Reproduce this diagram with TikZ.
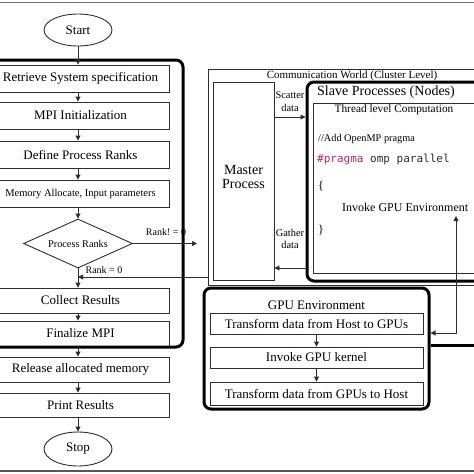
\documentclass[tikz,border=0pt]{standalone}
\usepackage{fontspec}
\setmainfont{Liberation Serif}
\newfontfamily\codefont{DejaVu Sans Mono}
\usetikzlibrary{shapes.geometric,arrows.meta,calc}
\definecolor{ln}{RGB}{45,45,45}
\definecolor{pragmac}{RGB}{170,40,110}
\definecolor{framec}{RGB}{110,110,110}
\begin{document}
\begin{tikzpicture}[x=1pt,y=-1pt,
  fs/.style={font=\fontsize{#1}{#1}\selectfont},
  lbox/.style={draw=ln, line width=0.9pt, rectangle, minimum width=178pt, minimum height=27pt, inner sep=0pt, fs=13},
  gbox/.style={draw=ln, line width=0.9pt, rectangle, minimum width=213pt, minimum height=21pt, inner sep=0pt, fs=13},
  term/.style={ellipse, draw=ln, line width=0.9pt, minimum width=68pt, minimum height=32pt, inner sep=0pt, fs=13},
  bigframe/.style={draw=black, line width=3pt, rectangle, rounded corners=7pt, inner sep=0pt},
  thinframe/.style={draw=ln, line width=0.9pt, rectangle, inner sep=0pt},
  arr/.style={draw=ln, line width=0.9pt, -{Triangle[length=5pt,width=5pt]}},
  lab/.style={inner sep=0pt}]
\useasboundingbox (0,0) rectangle (474,474);
\clip (0,0) rectangle (474,474);
% page rules
\coordinate (tl) at (0,2.5); \coordinate (tr) at (474,2.5);
\coordinate (bl) at (0,470.5); \coordinate (br) at (474,470.5);
\draw[framec, line width=1.5pt] (tl) -- (tr);
\draw[framec!80!black, line width=2pt] (bl) -- (br);

% ---------- right side containers ----------
\node[thinframe, minimum width=312pt, minimum height=216pt] (comm) at (364,177) {};
\node[lab, fs=11] at (352,76) {Communication World (Cluster Level)};
\node[thinframe, minimum width=61pt, minimum height=198pt] (master) at (243.5,181) {};
\node[lab, fs=14, align=center] at (243.5,177) {Master\\[0pt]Process};
\node[bigframe, minimum width=213pt, minimum height=199pt] (slave) at (413.5,181.5) {};
\node[lab, fs=14, anchor=west] at (317,92) {Slave Processes (Nodes)};
\node[thinframe, minimum width=197pt, minimum height=170pt] (thread) at (411.5,188) {};
\node[lab, fs=11.3] at (394,109.5) {Thread level Computation};
\node[lab, fs=10.3, anchor=west] at (318,139) {//Add OpenMP pragma};
\node[lab, anchor=west, font=\codefont\fontsize{11}{11}\selectfont, text=ln] at (317,159) {\textcolor{pragmac}{\#pragma} omp parallel};
\node[lab, fs=12, anchor=west] at (318,186) {\{};
\node[lab, fs=12, anchor=west] (invoke) at (342,207) {Invoke GPU Environment};
\node[lab, fs=12, anchor=west] at (318,230) {\}};
\node[lab, fs=10.4, align=center] at (290,101.5) {Scatter\\[2pt]data};
\node[lab, fs=10.4, align=center] at (290,239) {Gather\\[2pt]data};
\coordinate (sy) at (0,117);
\draw[arr] (master.east |- sy) -- (slave.west |- sy);
\coordinate (gy) at (0,268);
\draw[arr] (slave.west |- gy) -- (master.east |- gy);

% ---------- GPU environment ----------
\node[bigframe, minimum width=225pt, minimum height=121pt] (gpu) at (316.5,348.5) {};
\node[lab, fs=13] at (316.5,305) {GPU Environment};
\node[gbox] (t1) at (316.5,323.5) {Transform data from Host to GPUs};
\node[gbox] (kern) at (316.5,357.5) {Invoke GPU kernel};
\node[gbox, minimum height=23pt] (t2) at (316.5,393.5) {Transform data from GPUs to Host};
\draw[arr] (t1) -- (kern);
\draw[arr] (kern) -- (t2);
\coordinate (invtip) at (456,216);
\coordinate (gcorner) at (456,333);
\draw[draw=ln, line width=0.9pt, {Triangle[length=5pt,width=5pt]}-{Triangle[length=5pt,width=5pt]}] (invtip) -- (gcorner) -- (gpu.east |- gcorner);
\coordinate (off) at (500,345);
\draw[black, line width=3pt] (gpu.east |- off) -- (off);

% ---------- left flowchart ----------
\node[term] (start) at (78,30) {Start};
\node[lbox] (retr) at (80.5,78.5) {Retrieve System specification};
\node[lbox] (mpiinit) at (80.5,115.5) {MPI Initialization};
\node[lbox] (ranks) at (80.5,154.5) {Define Process Ranks};
\node[lbox, fs=10.5] (mem) at (80.5,193.5) {Memory Allocate, Input parameters};
\node[diamond, aspect=2.2, draw=ln, line width=0.9pt, minimum width=109pt, minimum height=49pt, inner sep=0pt, fs=10.3] (dec) at (78,243.5) {Process Ranks};
\node[lbox, minimum height=25pt] (coll) at (80.5,300.5) {Collect Results};
\node[lbox, minimum height=25pt] (fin) at (80.5,333.5) {Finalize MPI};
\node[lbox, minimum height=25pt] (rel) at (80.5,369.5) {Release allocated memory};
\node[lbox, minimum height=24pt] (print) at (80.5,405) {Print Results};
\node[term, minimum height=34pt] (stop) at (78,449) {Stop};
\node[bigframe, minimum width=197pt, minimum height=287pt] (mpiframe) at (84.5,203.5) {};

\draw[arr] (start.south) -- (start.south |- retr.north);
\draw[arr] (start.south |- retr.south) -- (start.south |- mpiinit.north);
\draw[arr] (start.south |- mpiinit.south) -- (start.south |- ranks.north);
\draw[arr] (start.south |- ranks.south) -- (start.south |- mem.north);
\draw[arr] (start.south |- mem.south) -- (dec.north);
\draw[arr] (dec.south) -- (dec.south |- coll.north);
\draw[arr] (dec.south |- coll.south) -- (dec.south |- fin.north);
\draw[arr] (dec.south |- fin.south) -- (dec.south |- rel.north);
\draw[arr] (dec.south |- rel.south) -- (dec.south |- print.north);
\draw[arr] (dec.south |- print.south) -- (stop.north);
\coordinate (rne) at (197,243.5);
\draw[arr] (dec.east) -- (rne);
\node[lab, fs=10] at (166,232) {Rank!~=~0};
\coordinate (rk) at (0,277);
\draw[arr] (comm.west |- rk) -- (dec.south |- rk);
\node[lab, fs=10] at (104,270) {Rank = 0};
\end{tikzpicture}
\end{document}
